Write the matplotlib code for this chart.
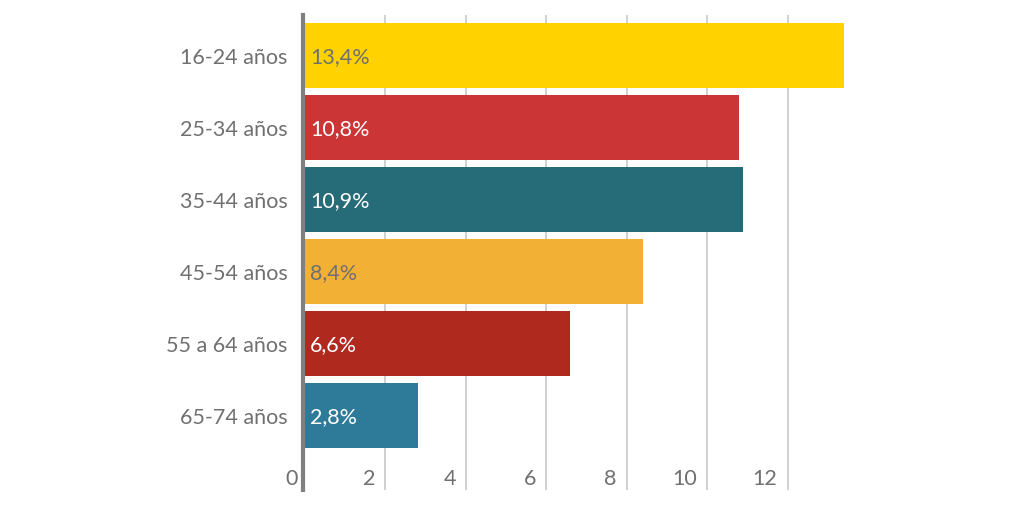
import matplotlib.pyplot as plt
import numpy as np

categories = ['16-24 años', '25-34 años', '35-44 años', '45-54 años', '55 a 64 años', '65-74 años']
values = [13.4, 10.8, 10.9, 8.4, 6.6, 2.8]
value_labels = ['13,4%', '10,8%', '10,9%', '8,4%', '6,6%', '2,8%']
colors = ['#FFD200', '#CC3535', '#256B78', '#F2B035', '#B0291F', '#2E7B99']
label_colors = ['#707070', 'white', 'white', '#707070', 'white', 'white']
xticks = [0, 2, 4, 6, 8, 10, 12]

plt.rcParams['font.family'] = ['Lato', 'DejaVu Sans']
txt = '#707070'
fs = 15.5

fig = plt.figure(figsize=(10.24, 5.12), dpi=100)
ax = fig.add_axes([305 / 1024, 22 / 512, 563 / 1024, 475 / 512])

y = np.arange(len(categories))
ax.barh(y, values, height=0.9, color=colors, zorder=2)
ax.set_ylim(len(categories) - 1 + 1.035, -0.5625)
ax.set_xlim(0, 14)

# gridlines + zero axis
for t in xticks[1:]:
    ax.axvline(t, color='#C8C8C8', lw=1.2, zorder=1)
ax.axvline(-0.05, color='#808080', lw=3, zorder=3, clip_on=False)

for s in ax.spines.values():
    s.set_visible(False)
ax.set_xticks([])
ax.set_yticks([])

# category labels
for i, c in enumerate(categories):
    ax.text(-0.43, i + 0.03, c, ha='right', va='center', fontsize=fs, color=txt)

# value labels
for i, lab in enumerate(value_labels):
    ax.text(0.12, i + 0.02, lab, ha='left', va='center', fontsize=fs, color=label_colors[i], zorder=4)

# x tick labels inside plot area
for t in xticks:
    off = 0.17 if t == 0 else 0.25
    ax.text(t - off, 5.88, str(t), ha='right', va='center', fontsize=fs, color=txt)

fig.savefig('out.png', dpi=100)
